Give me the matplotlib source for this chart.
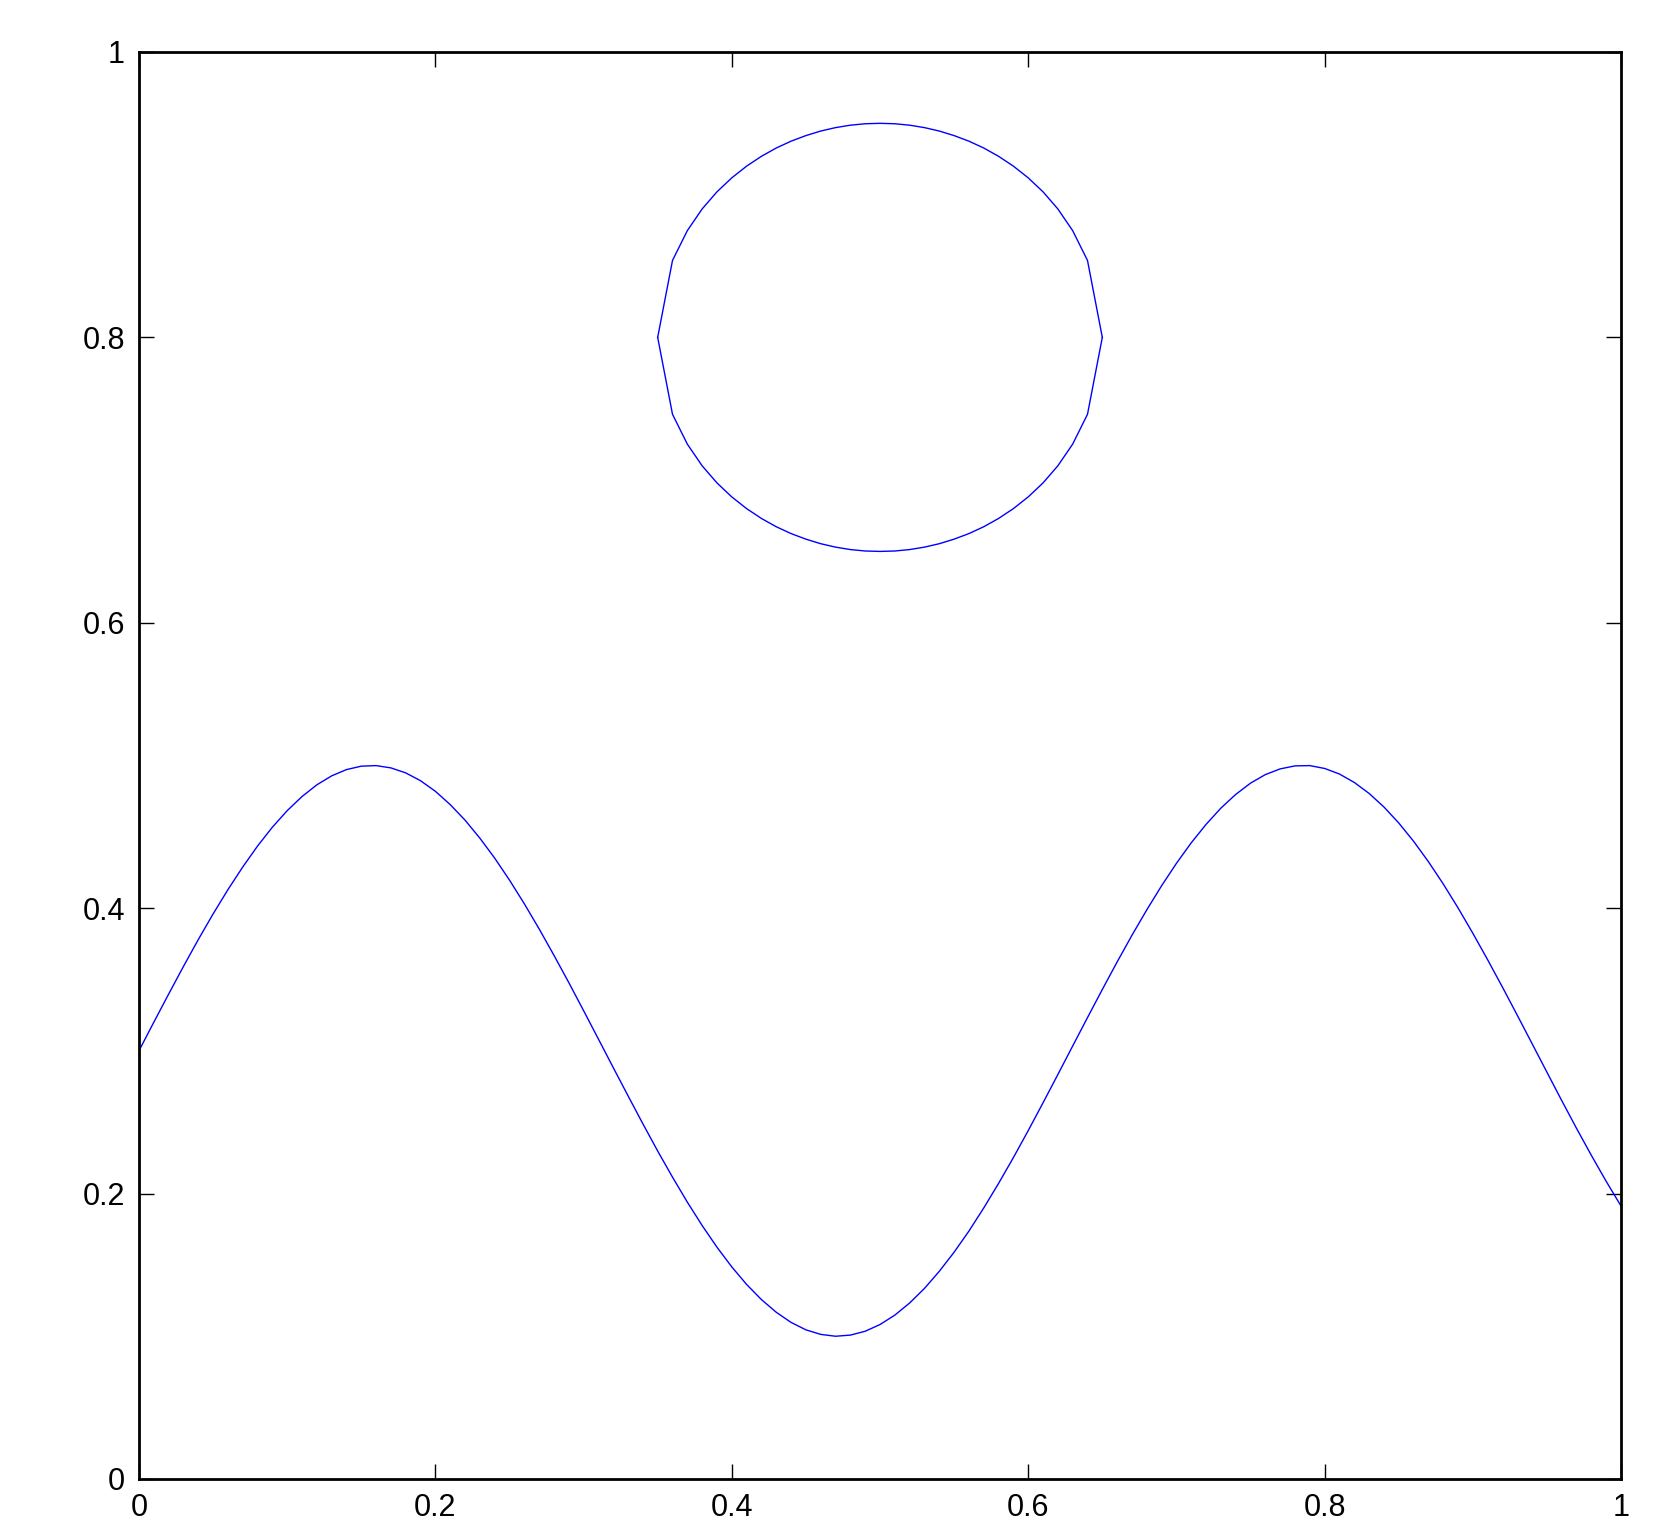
import matplotlib
matplotlib.use('Agg')
import matplotlib.pyplot as plt

# Wave curve, every 0.01 in x
wave_x = [i / 100 for i in range(101)]
wave_y = [0.3000, 0.3200, 0.3397, 0.3591, 0.3779, 0.3959, 0.4129, 0.4288,
          0.4435, 0.4567, 0.4683, 0.4782, 0.4864, 0.4927, 0.4971, 0.4995,
          0.4999, 0.4983, 0.4948, 0.4893, 0.4819, 0.4726, 0.4617, 0.4491,
          0.4351, 0.4197, 0.4031, 0.3855, 0.3670, 0.3479, 0.3282, 0.3083,
          0.2883, 0.2685, 0.2489, 0.2298, 0.2115, 0.1940, 0.1776, 0.1624,
          0.1486, 0.1363, 0.1257, 0.1168, 0.1097, 0.1045, 0.1013, 0.1000,
          0.1008, 0.1035, 0.1082, 0.1148, 0.1233, 0.1335, 0.1455, 0.1589,
          0.1737, 0.1899, 0.2071, 0.2252, 0.2441, 0.2636, 0.2834, 0.3034,
          0.3233, 0.3430, 0.3623, 0.3810, 0.3988, 0.4157, 0.4314, 0.4458,
          0.4587, 0.4701, 0.4797, 0.4876, 0.4936, 0.4976, 0.4997, 0.4999,
          0.4979, 0.4940, 0.4881, 0.4804, 0.4709, 0.4597, 0.4469, 0.4326,
          0.4170, 0.4002, 0.3824, 0.3638, 0.3446, 0.3249, 0.3050, 0.2850,
          0.2651, 0.2456, 0.2267, 0.2085, 0.1912]

# Closed loop, upper and lower halves sampled every 0.01 in x
loop_x = [0.35, 0.36, 0.37, 0.38, 0.39, 0.40, 0.41, 0.42, 0.43, 0.44, 0.45,
          0.46, 0.47, 0.48, 0.49, 0.50, 0.51, 0.52, 0.53, 0.54, 0.55, 0.56,
          0.57, 0.58, 0.59, 0.60, 0.61, 0.62, 0.63, 0.64, 0.65]
loop_top = [0.8000, 0.8539, 0.8748, 0.8900, 0.9020, 0.9118, 0.9200, 0.9269,
            0.9327, 0.9375, 0.9414, 0.9446, 0.9470, 0.9487, 0.9497, 0.9500,
            0.9497, 0.9487, 0.9470, 0.9446, 0.9414, 0.9375, 0.9327, 0.9269,
            0.9200, 0.9118, 0.9020, 0.8900, 0.8748, 0.8539, 0.8000]
loop_bottom = [0.8000, 0.7461, 0.7252, 0.7100, 0.6980, 0.6882, 0.6800, 0.6731,
               0.6673, 0.6625, 0.6586, 0.6554, 0.6530, 0.6513, 0.6503, 0.6500,
               0.6503, 0.6513, 0.6530, 0.6554, 0.6586, 0.6625, 0.6673, 0.6731,
               0.6800, 0.6882, 0.6980, 0.7100, 0.7252, 0.7461, 0.8000]

ticks = [0, 0.2, 0.4, 0.6, 0.8, 1]
tick_labels = ['0', '0.2', '0.4', '0.6', '0.8', '1']

plt.rcParams['font.family'] = ['Liberation Sans', 'DejaVu Sans']

fig = plt.figure(figsize=(16.56, 15.38), dpi=100)
ax = fig.add_axes([0.0839, 0.0384, 0.895, 0.9278])

ax.plot(wave_x, wave_y, color='#0000ff', lw=1.0)
ax.plot(loop_x, loop_top, color='#0000ff', lw=1.0)
ax.plot(loop_x, loop_bottom, color='#0000ff', lw=1.0)

ax.set_xlim(0, 1)
ax.set_ylim(0, 1)
ax.set_xticks(ticks)
ax.set_xticklabels(tick_labels)
ax.set_yticks(ticks)
ax.set_yticklabels(tick_labels)

for s in ax.spines.values():
    s.set_linewidth(2.0)
ax.tick_params(direction='in', length=11, width=1.0, labelsize=22, pad=10,
               top=True, right=True)

fig.savefig('out.png', dpi=100)
